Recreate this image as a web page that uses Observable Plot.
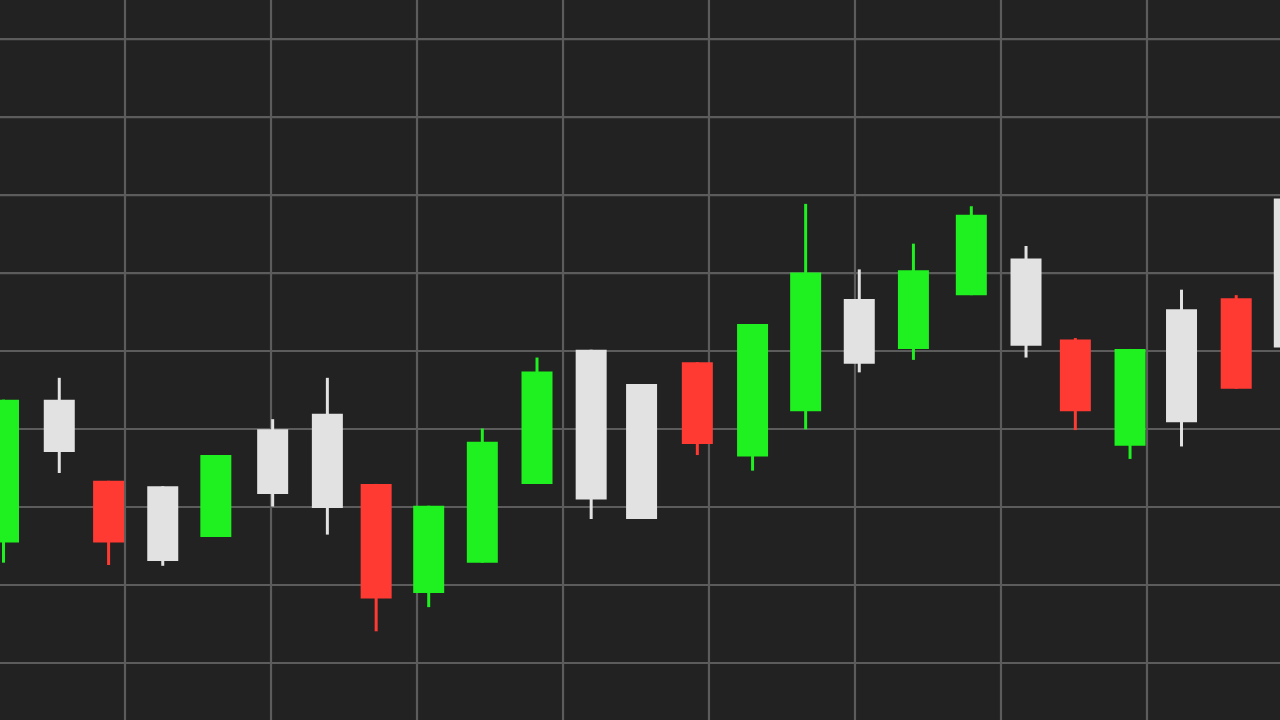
<!DOCTYPE html>
<html>
<head>
<meta charset="utf-8">
<script src="https://cdn.jsdelivr.net/npm/d3@7"></script>
<script src="https://cdn.jsdelivr.net/npm/@observablehq/plot@0.6"></script>
<style>
  html, body { margin: 0; padding: 0; background: #222222; overflow: hidden; }
  #chart svg { display: block; }
</style>
</head>
<body>
<div id="chart"></div>
<script>
// Candle time (in session units)
const times  = [0,1.04,1.96,2.97,3.96,5.02,6.04,6.95,7.93,8.93,9.95,10.96,11.90,12.94,13.97,14.96,15.96,16.97,18.05,19.07,19.99,21.01,21.97,22.99,23.98];
// Candle kind: up (green), down (red), flat (white)
const kinds  = ["up","flat","down","flat","up","flat","flat","down","up","up","up","flat","flat","down","up","up","flat","up","up","flat","down","up","flat","down","flat"];
const opens  = [115.4,127.0,123.3,113.0,116.1,121.6,119.8,122.9,108.9,112.8,122.9,120.9,118.4,138.5,126.4,132.2,138.3,140.2,147.1,140.6,141.4,127.8,130.8,146.7,140.4];
const closes = [133.7,133.7,115.4,122.6,126.6,129.9,131.9,108.2,120.1,128.3,137.3,140.1,135.7,128.0,143.4,150.0,146.6,150.3,157.4,151.8,132.2,140.2,145.3,135.1,159.5];
const highs  = [133.7,136.5,123.3,122.6,126.6,131.2,136.5,122.9,120.1,130.0,139.1,140.1,135.7,138.5,143.4,158.8,150.4,153.7,158.5,153.4,141.6,140.2,147.8,147.1,159.5];
const lows   = [112.8,124.3,112.5,112.4,116.1,120.0,116.4,104.0,107.1,112.8,122.9,118.4,118.4,126.6,124.6,129.9,137.2,138.8,147.1,139.1,129.8,126.1,127.7,135.1,140.4];

// Grid positions
const priceGrid = [100,110,120,130,140,150,160,170,180];
const timeGrid = [2.266,4.989,7.712,10.435,13.157,15.880,18.603,21.326];

const colors = {up: "#1ff01f", down: "#ff3a33", flat: "#e2e2e2"};

const candles = times.map((t, k) => ({
  time: t, kind: kinds[k], open: opens[k], close: closes[k], high: highs[k], low: lows[k]
}));

const chart = Plot.plot({
  width: 1280,
  height: 720,
  margin: 0,
  style: {background: "#222222"},
  x: {domain: [-0.056, 23.816], axis: null},
  y: {domain: [92.63, 184.94], axis: null},
  color: {domain: Object.keys(colors), range: Object.values(colors)},
  marks: [
    Plot.ruleY(priceGrid, {stroke: "#5c5c5c", strokeWidth: 2.2}),
    Plot.ruleX(timeGrid, {stroke: "#5c5c5c", strokeWidth: 2.2}),
    Plot.ruleX(candles, {x: "time", y1: "low", y2: "high", stroke: "kind", strokeWidth: 3}),
    Plot.ruleX(candles, {x: "time", y1: "open", y2: "close", stroke: "kind", strokeWidth: 31})
  ]
});
document.getElementById("chart").append(chart);
</script>
</body>
</html>
